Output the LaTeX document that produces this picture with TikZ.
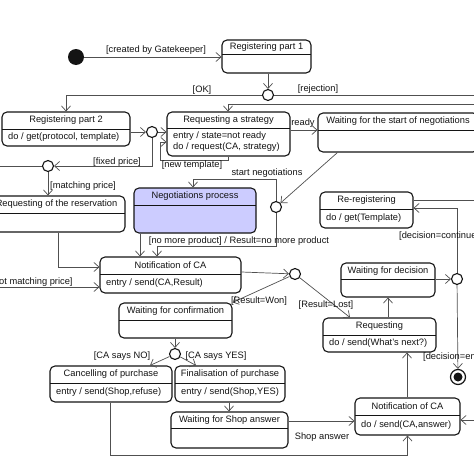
\documentclass[tikz,border=0pt]{standalone}
\usepackage{fontspec}
\setmainfont{Liberation Sans}
\usetikzlibrary{positioning, arrows.meta, fit, calc}
\definecolor{ink}{RGB}{20,20,20}
\definecolor{wire}{RGB}{80,80,80}
\definecolor{lavender}{RGB}{204,204,255}
\newcommand{\statefont}{\fontsize{9.3}{11}\selectfont}
\tikzset{
  statebox/.style ={rectangle, rounded corners=5pt, draw=ink, line width=1.1pt, inner sep=0pt},
  divider/.style  ={draw=ink, line width=0.8pt},
  titletext/.style={font=\statefont, color=ink, inner sep=0pt},
  bodytext/.style ={font=\statefont, color=ink, inner sep=0pt, align=left, anchor=west},
  junction/.style ={circle, draw=ink, line width=1.1pt, fill=white, minimum size=11pt, inner sep=0pt},
  startdot/.style ={circle, fill=ink, minimum size=16pt, inner sep=0pt},
  enddot/.style   ={circle, draw=ink, line width=1.2pt, fill=white, minimum size=15pt, inner sep=0pt,
                    path picture={\fill[ink] (path picture bounding box.center) circle (4.5pt);}},
  arr/.style      ={-{Straight Barb[length=5pt, width=9pt]}, color=wire, line width=0.7pt},
  trlabel/.style  ={font=\statefont, color=ink, inner sep=1pt},
}
% [fill] name, x1, y1, x2, y2, divider y, title, body
\newcommand{\umlstate}[9][white]{%
  \node[statebox, fill=#1, fit={(#3,#4) (#5,#6)}] (#2) {};
  \draw[divider] (#3,#7) -- (#5,#7);
  \node[titletext] (#2-title) at ({(#3+#5)/2},{(#4+#7)/2}) {#8};
  \node[bodytext] (#2-body) at ({#3+6},{(#7+#6)/2}) {#9};
}

\begin{document}
\begin{tikzpicture}[x=1pt, y=-1pt]
\useasboundingbox (0,0) rectangle (474,474);
\fill[white] (0,0) rectangle (474,474);
\clip (0,0) rectangle (474,474);

% states
\umlstate{reg1}{222}{40}{311}{73}{54}{Registering part 1}{}
\umlstate{reg2}{2}{112}{130}{146}{129}{Registering part 2}{do / get(protocol, template)}
\umlstate{reqstrat}{167}{112}{290}{156}{128}{Requesting a strategy}{entry / state=not ready\\do / request(CA, strategy)}
\umlstate{waitneg}{318}{113}{478}{152}{130}{Waiting for the start of negotiations}{}
\umlstate[lavender]{negproc}{134}{188}{256}{233}{205}{Negotiations process}{}
\umlstate{resv}{-12}{196}{125}{232}{213}{Requesting of the reservation}{}
\umlstate{rereg}{320}{192}{413}{228}{209}{Re-registering}{do / get(Template)}
\umlstate{notif1}{100}{257}{241}{293}{274}{Notification of CA}{entry / send(CA,Result)}
\umlstate{waitconf}{119}{303}{232}{338}{320}{Waiting for confirmation}{}
\umlstate{waitdec}{341}{263}{435}{297}{279}{Waiting for decision}{}
\umlstate{requesting}{323}{318}{436}{352}{335}{Requesting}{do / send(What's next?)}
\umlstate{cancel}{50}{366}{172}{402}{383}{Cancelling of purchase}{entry / send(Shop,refuse)}
\umlstate{finalis}{175}{366}{285}{402}{383}{Finalisation of purchase}{entry / send(Shop,YES)}
\umlstate{waitshop}{171}{412}{288}{448}{428}{Waiting for Shop answer}{}
\umlstate{notif2}{355}{398}{460}{435}{415}{Notification of CA}{do / send(CA,answer)}

% pseudo states
\node[startdot] (init) at (76,57) {};
\node[enddot] (final) at (458,377) {};
\node[junction] (j1) at (268,95) {};
\node[junction] (j2) at (152,132) {};
\node[junction] (j3) at (48,166) {};
\node[junction] (j4) at (276,207) {};
\node[junction] (j5) at (295,274) {};
\node[junction] (j6) at (457,279) {};
\node[junction] (j7) at (175,354) {};
\coordinate (rejectEnd) at (495,95);
\coordinate (answerIn) at (495,420);

% transitions
\draw[arr] (init) -- (reg1.west |- init);
\node[trlabel] (lGate) at (156,50) {[created by Gatekeeper]};
\draw[arr] (reg1.south -| j1) -- (j1);
\draw[arr] (j1.west) -| (reg2.north);
\node[trlabel] (lOK) at (202,90) {[OK]};
\draw[wire, line width=0.7pt] (j1.east) -- (rejectEnd);
\node[trlabel] (lReject) at (318,89) {[rejection]};
\draw[arr] (rereg.east |- 0,200) -- (495,200) |- (228,104) -- (reqstrat.north -| 228,0);
\draw[arr] (reg2.east |- j2) -- (j2);
\draw[arr] (j2) -- (reqstrat.west |- j2);
\draw[arr] (reqstrat.south -| 228,0) -- (228,160) -| (160,142) -- (reqstrat.west |- 0,142);
\node[trlabel] (lTemplate) at (192,165) {[new template]};
\draw[arr] (reqstrat.east |- 0,130) -- (waitneg.west |- 0,130);
\node[trlabel] (lReady) at (303,123) {ready};
\draw[arr] (j2.south) |- (j3);
\node[trlabel] (lFixed) at (117,162) {[fixed price]};
\draw[arr] (j3) -- (resv.north -| j3);
\node[trlabel] (lMatch) at (83,186) {[matching price]};
\draw[arr] (j3) -- (-20,166) |- (notif1.west |- 0,287);
\node[trlabel] (lNoMatch) at (32,282) {[not matching price]};
\draw[arr] (resv.south -| 58,0) |- (notif1.west |- 0,267);
\draw[arr] ([xshift=20pt]waitneg.south west) -- (j4);
\draw[arr] (j4) -- (276,179) -| (negproc.north -| 193,0);
\node[trlabel] (lStart) at (267,173) {start negotiations};
\draw[arr] (j4) -- (276,246) -| (notif1.north -| 157,0);
\node[trlabel] (lNoMore) at (239,241) {[no more product] / Result=no more product};
\draw[arr] (negproc.south -| 140,0) -- (notif1.north -| 140,0);
\draw[arr] (notif1.east |- 0,272) -- (j5);
\draw[arr] (j5) -- (waitconf.north east);
\node[trlabel] (lWon) at (259,301) {[Result=Won]};
\draw[arr] (j5) -- (requesting.north -| 350,0);
\node[trlabel] (lLost) at (326,305) {[Result=Lost]};
\draw[arr] (requesting.north -| 388,0) -- (waitdec.south -| 388,0);
\draw[arr] (waitdec.east |- j6) -- (j6);
\draw[arr] (j6) |- (rereg.east |- 0,208);
\node[trlabel, anchor=west] (lContinue) at (398,236) {[decision=continue]};
\draw[arr] (j6) -- (final);
\node[trlabel, anchor=west] (lEnd) at (422,357) {[decision=end]};
\draw[arr] (waitconf.south -| j7) -- (j7);
\draw[arr] (j7) -- (cancel.north -| 150,0);
\node[trlabel] (lNo) at (122,356) {[CA says NO]};
\draw[arr] (j7) -- (finalis.north -| 196,0);
\node[trlabel] (lYes) at (216,356) {[CA says YES]};
\draw[arr] (finalis.south -| 229,0) -- (waitshop.north -| 229,0);
\draw[arr] (waitshop.east |- 0,421) -- (notif2.west |- 0,421);
\node[trlabel] (lShop) at (322,437) {Shop answer};
\draw[arr] (cancel.south -| 110,0) |- (notif2.south |- 0,455) -- (notif2.south);
\draw[arr] (notif2.north -| 407,0) -- (requesting.south -| 407,0);
\draw[arr] (answerIn) -- (notif2.east |- answerIn);
\end{tikzpicture}
\end{document}
